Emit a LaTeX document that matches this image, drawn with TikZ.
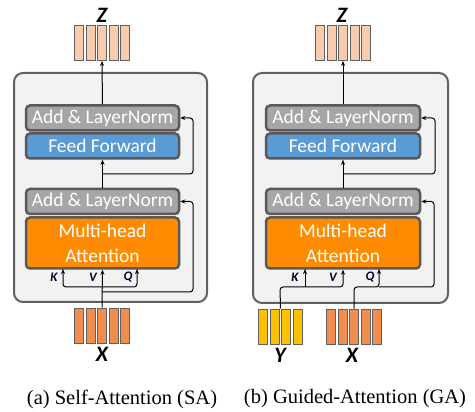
\documentclass[tikz,border=0pt]{standalone}
\usepackage{fontspec}
\setmainfont{Liberation Serif}
\newfontfamily\calfont{Carlito}
\usetikzlibrary{arrows.meta,calc}
\definecolor{lngray}{HTML}{A6A6A6}
\definecolor{bdgray}{HTML}{595959}
\definecolor{ffblue}{HTML}{5B9BD5}
\definecolor{mhaorange}{HTML}{FF8C00}
\definecolor{zpeach}{HTML}{F8CBAD}
\definecolor{xorange}{HTML}{F08D4F}
\definecolor{yyellow}{HTML}{FFC000}
\definecolor{outerfill}{HTML}{F2F2F2}
\definecolor{outerline}{HTML}{606060}
\tikzset{
  outerbox/.style={draw=outerline, line width=2pt, fill=outerfill, rounded corners=9pt, inner sep=0pt},
  blockbox/.style={draw=bdgray, line width=2.5pt, rounded corners=4pt, inner sep=0pt, text=white,
    font=\calfont\fontsize{19.5}{25}\selectfont, align=center},
  lnbox/.style={blockbox, fill=lngray, minimum height=25pt},
  ffbox/.style={blockbox, fill=ffblue, minimum height=25pt},
  mhabox/.style={blockbox, fill=mhaorange, minimum height=51pt},
  vec/.style={draw=outerline, line width=0.8pt, minimum width=9pt, minimum height=35pt, inner sep=0pt},
  zvec/.style={vec, fill=zpeach},
  xvec/.style={vec, fill=xorange},
  yvec/.style={vec, fill=yyellow},
  biglabel/.style={font=\calfont\bfseries\itshape\fontsize{22}{22}\selectfont, inner sep=0pt},
  smalllabel/.style={font=\calfont\bfseries\itshape\fontsize{13}{13}\selectfont, inner sep=0pt, text=black!85!blue},
  conn/.style={-{Stealth[length=5pt,width=4pt]}, line width=1pt, black},
  rconn/.style={conn, rounded corners=3pt},
  caption/.style={font=\fontsize{20.5}{20.5}\selectfont, inner sep=0pt}
}
\begin{document}
\begin{tikzpicture}[x=1pt,y=-1pt]
\useasboundingbox (0,0) rectangle (475,412);
% ---------------- panel (a) ----------------
\node[outerbox, minimum width=193pt, minimum height=229pt] (aout) at (110.5,187.5) {};
\node[lnbox, minimum width=153pt] (aln2) at (102.5,118) {Add \& LayerNorm};
\node[ffbox, minimum width=153pt] (aff) at (102.5,146) {Feed Forward};
\node[lnbox, minimum width=153pt] (aln1) at (102.5,201.5) {Add \& LayerNorm};
\node[mhabox, minimum width=153pt] (amha) at (102.5,243) {Multi-head\\Attention};
\foreach \i/\x in {1/79,2/90.5,3/102,4/113.5,5/125}{
  \node[zvec] (az\i) at (\x,43) {};
  \node[xvec] (ax\i) at (\x,325.5) {};
}
\node[biglabel] (aZ) at (102,15) {Z};
\node[biglabel] (aX) at (102,354) {X};
\node[smalllabel] (aK) at (54,277) {K};
\node[smalllabel] (aV) at (93,277) {V};
\node[smalllabel] (aQ) at (128,277) {Q};
\coordinate (akin) at (63,269);
\coordinate (aqin) at (137,269);
\coordinate (abr) at (102,287);
\coordinate (ar1) at (102,292);
\coordinate (ar1c) at (193,292);
\coordinate (ar2) at (102,174);
\coordinate (ar2c) at (193,174);
\draw[conn] (aln2.north) -- (az3.south);
\draw[conn] (aln1.north) -- (aff.south);
\draw[rconn] (ar2) -- (ar2c) |- (aln2.east);
\draw[conn] (ax3.north) -- (amha.south);
\draw[rconn] (abr) -| (akin);
\draw[rconn] (abr) -| (aqin);
\draw[rconn] (ar1) -- (ar1c) |- (aln1.east);
% ---------------- panel (b) ----------------
\node[outerbox, minimum width=195pt, minimum height=230pt] (bout) at (350.5,188) {};
\node[lnbox, minimum width=154pt] (bln2) at (343,118) {Add \& LayerNorm};
\node[ffbox, minimum width=154pt] (bff) at (343,146) {Feed Forward};
\node[lnbox, minimum width=154pt] (bln1) at (343,201.5) {Add \& LayerNorm};
\node[mhabox, minimum width=154pt] (bmha) at (343,243) {Multi-head\\Attention};
\foreach \i/\x in {1/320,2/331.5,3/343,4/354.5,5/366}{
  \node[zvec] (bz\i) at (\x,43) {};
}
\foreach \i/\x in {1/331,2/342.5,3/354,4/365.5,5/377}{
  \node[xvec] (bx\i) at (\x,326.5) {};
}
\foreach \i/\x in {1/263.25,2/274.75,3/286.25,4/297.75}{
  \node[yvec] (by\i) at (\x,326.5) {};
}
\node[biglabel] (bZ) at (342,15) {Z};
\node[biglabel] (bX) at (352,355) {X};
\node[biglabel] (bY) at (280,355) {Y};
\node[smalllabel] (bK) at (295,277) {K};
\node[smalllabel] (bV) at (333,277) {V};
\node[smalllabel] (bQ) at (370,277) {Q};
\coordinate (ystart) at ($(by2.north)!0.5!(by3.north)$);
\coordinate (ycorner) at (280,287);
\coordinate (kbr) at (305,287);
\coordinate (kin) at (305,269);
\coordinate (vcorner) at (343,287);
\coordinate (xcorner) at (354,287);
\coordinate (qbr) at (379,287);
\coordinate (qin) at (379,269);
\coordinate (br1c) at (434,287);
\coordinate (br2) at (343,174);
\coordinate (br2c) at (435,174);
\draw[conn] (bln2.north) -- (bz3.south);
\draw[conn] (bln1.north) -- (bff.south);
\draw[rconn] (br2) -- (br2c) |- (bln2.east);
\draw[rconn] (ystart) -- (ycorner) -- (vcorner) -- (bmha.south);
\draw[conn] (kbr) -- (kin);
\draw[rconn] (bx3.north) -- (xcorner) -- (qbr) -- (qin);
\draw[rconn] (qbr) -- (br1c) |- (bln1.east);
% ---------------- captions ----------------
\node[caption] (capa) at (122,399) {(a) Self-Attention (SA)};
\node[caption] (capb) at (355,399) {(b) Guided-Attention (GA)};
\end{tikzpicture}
\end{document}
